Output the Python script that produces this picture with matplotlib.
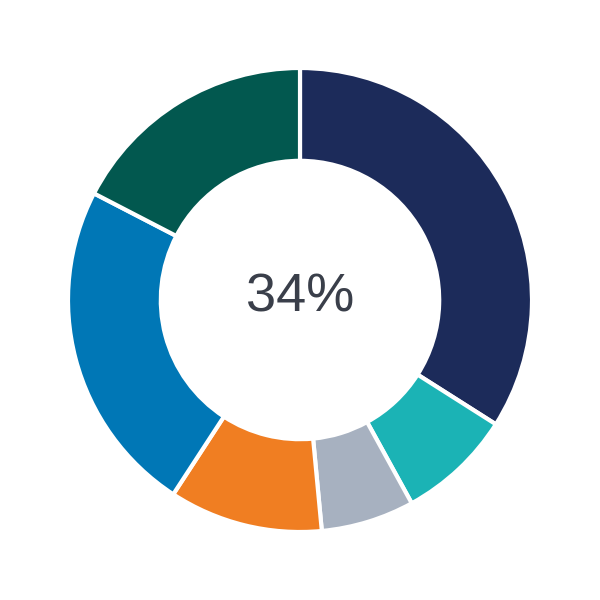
import matplotlib
matplotlib.use('Agg')
from matplotlib import pyplot as plt

# segment shares (clockwise from 12 o'clock)
values = [34, 8, 6.5, 10.7, 23.4, 17.4]
colors = ['#1c2b5a', '#1bb3b5', '#a7b1c0', '#f07e22', '#0077b6', '#02584f']
center_label = '34%'

fig = plt.figure(figsize=(6, 6), dpi=100)
ax = fig.add_axes([0, 0, 1, 1])
ax.pie(values, colors=colors, startangle=90, counterclock=False, radius=1,
       wedgeprops=dict(width=0.4, edgecolor='white', linewidth=3))
ax.text(0, 0.01, center_label, ha='center', va='center', fontsize=39,
        color='#3a3f4a', family='Liberation Sans')
lim = 300 / 232
ax.set_xlim(-lim, lim)
ax.set_ylim(-lim, lim)
ax.set_aspect('equal')
ax.axis('off')
fig.savefig('out.png', dpi=100, facecolor='white')
